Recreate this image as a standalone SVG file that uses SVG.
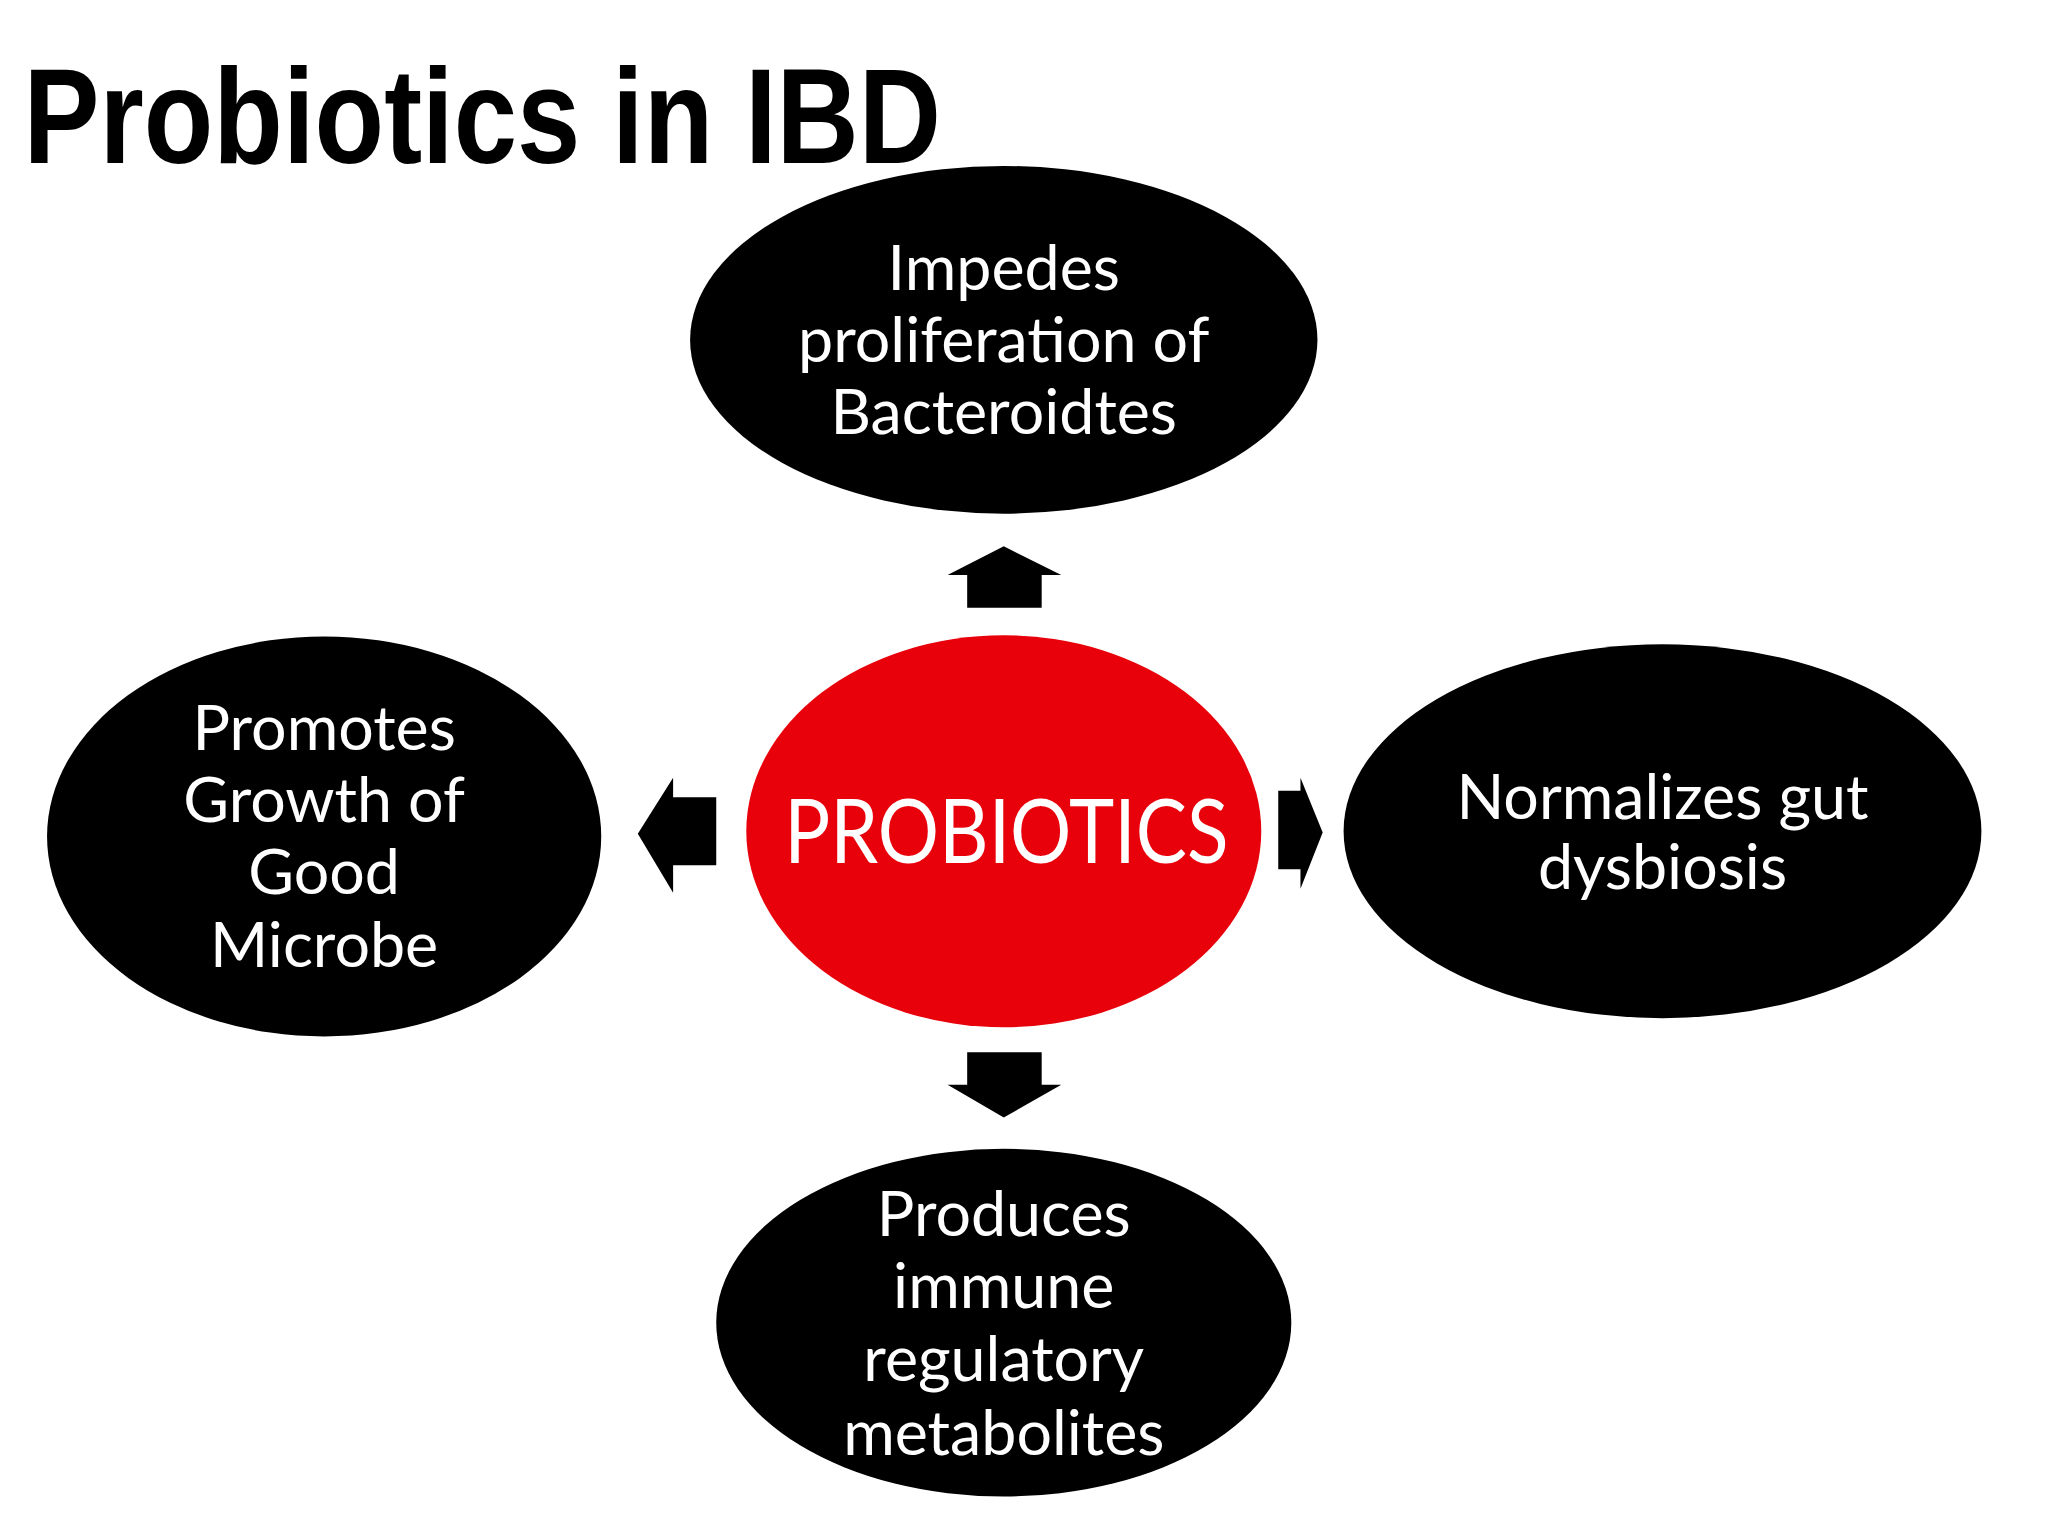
<svg xmlns="http://www.w3.org/2000/svg" width="2048" height="1536" viewBox="0 0 2048 1536">
<style>
.n{fill:#000}
.t{fill:#fff;font-family:Lato,"Open Sans",sans-serif;font-size:48px;text-anchor:middle}
.a{fill:#000}
</style>
<rect width="2048" height="1536" fill="#fff"/>
<g transform="scale(1.307)">
<text x="18" y="125" font-family="'Liberation Sans',sans-serif" font-weight="bold" font-size="104" textLength="702" lengthAdjust="spacingAndGlyphs" fill="#000">Probiotics in IBD</text>
<g id="connectors">
<polygon class="a" points="768,418 812,440 797,440 797,465 740,465 740,440 725,440"/>
<polygon class="a" points="768,855 812,830 797,830 797,805 740,805 740,830 725,830"/>
<polygon class="a" points="488,638 515,595 515,610 548,610 548,662 515,662 515,683"/>
<polygon class="a" points="1012,637 995,595 995,605 978,605 978,665 995,665 995,680"/>
</g>
<g id="top"><ellipse class="n" cx="768" cy="260" rx="240" ry="133"/>
<text class="t" x="768" y="222">Impedes</text><text class="t" x="768" y="277">proliferation of</text><text class="t" x="768" y="332">Bacteroidtes</text></g>
<g id="left"><ellipse class="n" cx="248" cy="640" rx="212" ry="153"/>
<text class="t" x="248" y="574">Promotes</text><text class="t" x="248" y="629">Growth of</text><text class="t" x="248" y="684">Good</text><text class="t" x="248" y="740">Microbe</text></g>
<g id="center"><ellipse cx="768" cy="636" rx="197" ry="150" fill="#e8000b"/>
<text class="t" x="770" y="660" font-size="64" textLength="340" lengthAdjust="spacingAndGlyphs" font-stretch="condensed" style="font-size:68px">PROBIOTICS</text></g>
<g id="right"><ellipse class="n" cx="1272" cy="636" rx="244" ry="143"/>
<text class="t" x="1272" y="627">Normalizes gut</text><text class="t" x="1272" y="680">dysbiosis</text></g>
<g id="bottom"><ellipse class="n" cx="768" cy="1012" rx="220" ry="133"/>
<text class="t" x="768" y="946">Produces</text><text class="t" x="768" y="1001">immune</text><text class="t" x="768" y="1057">regulatory</text><text class="t" x="768" y="1113">metabolites</text></g>
</g>
</svg>
